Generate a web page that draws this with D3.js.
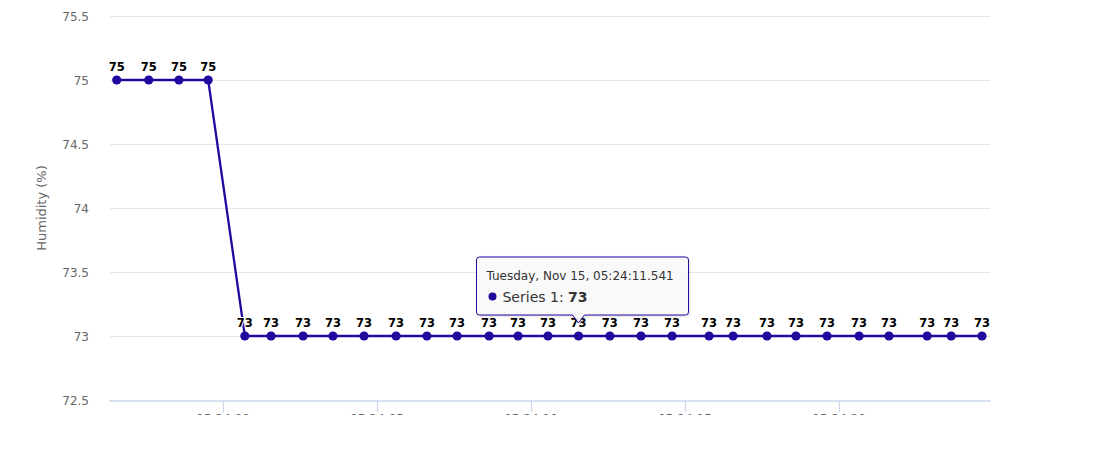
<!DOCTYPE html>
<html>
<head>
<meta charset="utf-8">
<script src="https://cdn.jsdelivr.net/npm/d3@7"></script>
<style>
  html, body { margin: 0; padding: 0; background: #fff; }
  svg { display: block; font-family: "DejaVu Sans", "Lucida Grande", sans-serif; }
</style>
</head>
<body>
<div id="chart"></div>
<script>
// ---- data ----
const times = [
  "2022-11-15T05:23:56.550", "2022-11-15T05:23:57.590", "2022-11-15T05:23:58.570", "2022-11-15T05:23:59.520",
  "2022-11-15T05:24:00.710", "2022-11-15T05:24:01.560", "2022-11-15T05:24:02.600", "2022-11-15T05:24:03.570",
  "2022-11-15T05:24:04.580", "2022-11-15T05:24:05.620", "2022-11-15T05:24:06.620", "2022-11-15T05:24:07.600",
  "2022-11-15T05:24:08.640", "2022-11-15T05:24:09.580", "2022-11-15T05:24:10.550", "2022-11-15T05:24:11.541",
  "2022-11-15T05:24:12.560", "2022-11-15T05:24:13.570", "2022-11-15T05:24:14.580", "2022-11-15T05:24:15.780",
  "2022-11-15T05:24:16.560", "2022-11-15T05:24:17.660", "2022-11-15T05:24:18.600", "2022-11-15T05:24:19.610",
  "2022-11-15T05:24:20.650", "2022-11-15T05:24:21.620", "2022-11-15T05:24:22.860", "2022-11-15T05:24:23.640",
  "2022-11-15T05:24:24.640"
];
const humidity = [75, 75, 75, 75,
  73, 73, 73, 73, 73, 73, 73, 73, 73, 73, 73, 73, 73, 73, 73, 73, 73, 73, 73, 73, 73, 73, 73, 73, 73];
const yTicks = [72.5, 73, 73.5, 74, 74.5, 75, 75.5];
const xTicks = ["2022-11-15T05:24:00.000", "2022-11-15T05:24:05.000", "2022-11-15T05:24:10.000",
                "2022-11-15T05:24:15.000", "2022-11-15T05:24:20.000"];
const seriesName = "Series 1";
const yTitle = "Humidity (%)";
const tooltipIndex = 15;

// ---- setup ----
const W = 1112, H = 415;
const color = "#22099e";
const parse = d3.utcParse("%Y-%m-%dT%H:%M:%S.%L");
const data = times.map((t, i) => ({ t: parse(t), v: humidity[i] }));

const plotL = 110, plotR = 990, plotT = 16, plotB = 400;
const x = d3.scaleUtc()
  .domain(d3.extent(data, d => d.t))
  .range([116.7, 982]);
const y = d3.scaleLinear().domain([72.5, 75.5]).range([plotB, plotT]);

const svg = d3.select("#chart").append("svg").attr("width", W).attr("height", H);

// grid lines
svg.append("g").selectAll("line").data(yTicks.filter(d => d !== 72.5)).join("line")
  .attr("x1", plotL).attr("x2", plotR)
  .attr("y1", d => Math.round(y(d)) + 0.5).attr("y2", d => Math.round(y(d)) + 0.5)
  .attr("stroke", "#e6e6e6").attr("stroke-width", 1);

// y labels
svg.append("g").selectAll("text").data(yTicks).join("text")
  .attr("x", 89).attr("y", d => y(d) + 4.5)
  .attr("text-anchor", "end").attr("font-size", 12).attr("fill", "#666666")
  .text(d => d);

// y title
svg.append("text")
  .attr("transform", `translate(46,${(plotT + plotB) / 2}) rotate(-90)`)
  .attr("text-anchor", "middle").attr("font-size", 13).attr("fill", "#666666")
  .text(yTitle);

// x axis line and ticks
svg.append("line")
  .attr("x1", plotL - 1).attr("x2", plotR + 1)
  .attr("y1", plotB + 1).attr("y2", plotB + 1)
  .attr("stroke", "#ccd6eb").attr("stroke-width", 1.5);
const xt = xTicks.map(parse);
svg.append("g").selectAll("line").data(xt).join("line")
  .attr("x1", d => Math.round(x(d)) + 0.5).attr("x2", d => Math.round(x(d)) + 0.5)
  .attr("y1", plotB + 1).attr("y2", plotB + 12)
  .attr("stroke", "#ccd6eb").attr("stroke-width", 1.2);
svg.append("g").selectAll("text").data(xt).join("text")
  .attr("x", d => x(d)).attr("y", plotB + 23)
  .attr("text-anchor", "middle").attr("font-size", 12).attr("fill", "#666666")
  .text(d => d3.utcFormat("%H:%M:%S")(d));

// line
const line = d3.line().x(d => x(d.t)).y(d => y(d.v));
svg.append("path").datum(data)
  .attr("d", line).attr("fill", "none")
  .attr("stroke", color).attr("stroke-width", 2.3)
  .attr("stroke-linejoin", "round").attr("stroke-linecap", "round");

// markers
svg.append("g").selectAll("circle").data(data).join("circle")
  .attr("cx", d => x(d.t)).attr("cy", d => y(d.v)).attr("r", 4.6)
  .attr("fill", color);

// data labels
svg.append("g").selectAll("text").data(data).join("text")
  .attr("x", d => x(d.t)).attr("y", d => y(d.v) - 9.5)
  .attr("text-anchor", "middle").attr("font-size", 11.5).attr("font-weight", "bold")
  .attr("fill", "#000").attr("stroke", "#fff").attr("stroke-width", 2)
  .attr("stroke-linejoin", "round").attr("paint-order", "stroke")
  .text(d => d.v);

// tooltip
const tp = data[tooltipIndex];
const px = x(tp.t), py = y(tp.v);
const tipY = py - 13, boxB = tipY - 8, boxH = 58, boxT = boxB - boxH;
const boxL = px - 102, boxR = boxL + 212, r = 3;
const defs = svg.append("defs");
const f = defs.append("filter").attr("id", "sh").attr("x", "-10%").attr("y", "-20%").attr("width", "130%").attr("height", "150%");
f.append("feDropShadow").attr("dx", 1).attr("dy", 1).attr("stdDeviation", 1.2)
  .attr("flood-color", "#000").attr("flood-opacity", 0.15);
const tipPath = [
  `M${boxL + r},${boxT}`, `L${boxR - r},${boxT}`, `Q${boxR},${boxT} ${boxR},${boxT + r}`,
  `L${boxR},${boxB - r}`, `Q${boxR},${boxB} ${boxR - r},${boxB}`,
  `L${px + 6},${boxB}`, `L${px},${tipY}`, `L${px - 6},${boxB}`,
  `L${boxL + r},${boxB}`, `Q${boxL},${boxB} ${boxL},${boxB - r}`,
  `L${boxL},${boxT + r}`, `Q${boxL},${boxT} ${boxL + r},${boxT}`, "Z"
].join(" ");
svg.append("path").attr("d", tipPath)
  .attr("fill", "rgba(250,250,250,0.85)").attr("stroke", color).attr("stroke-width", 1)
  .attr("filter", "url(#sh)");
svg.append("text")
  .attr("x", boxL + 10).attr("y", boxT + 23)
  .attr("font-size", 12).attr("fill", "#333333")
  .text(d3.utcFormat("%A, %b %e, %H:%M:%S.%L")(tp.t));
svg.append("circle").attr("cx", boxL + 16).attr("cy", boxT + 39.5).attr("r", 4).attr("fill", color);
const t2 = svg.append("text").attr("x", boxL + 26).attr("y", boxT + 44.5)
  .attr("font-size", 14).attr("fill", "#333333");
t2.append("tspan").text(seriesName + ": ");
t2.append("tspan").attr("font-weight", "bold").text(tp.v);
</script>
</body>
</html>
